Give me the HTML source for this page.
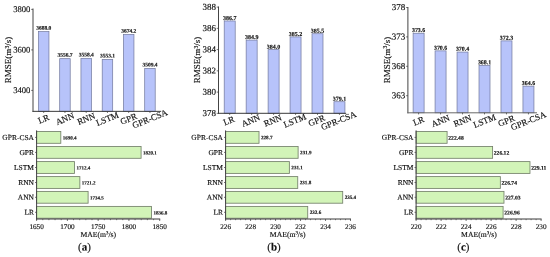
<!DOCTYPE html>
<html><head><meta charset="utf-8"><title>Figure</title>
<style>
html,body{margin:0;padding:0;background:#fff;}
svg{display:block;font-family:"Liberation Serif", "DejaVu Serif", serif;fill:#111;}
text{stroke:#111;stroke-width:0.15px;}
</style></head><body>
<svg width="550" height="257" viewBox="0 0 550 257">
<rect x="0" y="0" width="550" height="257" fill="#ffffff" stroke="none"/>
<rect x="38.45" y="31.64" width="10.50" height="79.71" fill="#b7c3fa" stroke="#70779c" stroke-width="0.7"/>
<text transform="translate(43.70,29.84) matrix(1,0.001,0,1,0,0)" font-size="5.50" text-anchor="middle" font-weight="bold">3688.0</text>
<rect x="59.70" y="58.67" width="10.50" height="52.68" fill="#b7c3fa" stroke="#70779c" stroke-width="0.7"/>
<text transform="translate(64.95,56.87) matrix(1,0.001,0,1,0,0)" font-size="5.50" text-anchor="middle" font-weight="bold">3556.7</text>
<rect x="80.95" y="58.32" width="10.50" height="53.03" fill="#b7c3fa" stroke="#70779c" stroke-width="0.7"/>
<text transform="translate(86.20,56.52) matrix(1,0.001,0,1,0,0)" font-size="5.50" text-anchor="middle" font-weight="bold">3558.4</text>
<rect x="102.20" y="59.41" width="10.50" height="51.94" fill="#b7c3fa" stroke="#70779c" stroke-width="0.7"/>
<text transform="translate(107.45,57.61) matrix(1,0.001,0,1,0,0)" font-size="5.50" text-anchor="middle" font-weight="bold">3553.1</text>
<rect x="123.45" y="34.48" width="10.50" height="76.87" fill="#b7c3fa" stroke="#70779c" stroke-width="0.7"/>
<text transform="translate(128.70,32.68) matrix(1,0.001,0,1,0,0)" font-size="5.50" text-anchor="middle" font-weight="bold">3674.2</text>
<rect x="144.70" y="68.41" width="10.50" height="42.94" fill="#b7c3fa" stroke="#70779c" stroke-width="0.7"/>
<text transform="translate(149.95,66.61) matrix(1,0.001,0,1,0,0)" font-size="5.50" text-anchor="middle" font-weight="bold">3509.4</text>
<line x1="33" y1="8.5" x2="33" y2="111.85" stroke="#444444" stroke-width="1"/>
<line x1="32.5" y1="111.35" x2="161.2" y2="111.35" stroke="#3a3a3a" stroke-width="1"/>
<line x1="31.2" y1="9.40" x2="33" y2="9.40" stroke="#3a3a3a" stroke-width="0.7"/>
<text transform="translate(30.40,11.90) matrix(1,0.001,0,1,0,0)" font-size="8.60" text-anchor="end">3800</text>
<line x1="31.2" y1="49.90" x2="33" y2="49.90" stroke="#3a3a3a" stroke-width="0.7"/>
<text transform="translate(30.40,52.40) matrix(1,0.001,0,1,0,0)" font-size="8.60" text-anchor="end">3600</text>
<line x1="31.2" y1="90.40" x2="33" y2="90.40" stroke="#3a3a3a" stroke-width="0.7"/>
<text transform="translate(30.40,92.90) matrix(1,0.001,0,1,0,0)" font-size="8.60" text-anchor="end">3400</text>
<line x1="43.70" y1="111.35" x2="43.70" y2="112.94999999999999" stroke="#3a3a3a" stroke-width="0.7"/>
<text transform="translate(43.70,118.95) rotate(-22)" x="0" y="2.8" font-size="8.8" text-anchor="middle">LR</text>
<line x1="64.95" y1="111.35" x2="64.95" y2="112.94999999999999" stroke="#3a3a3a" stroke-width="0.7"/>
<text transform="translate(64.95,118.95) rotate(-22)" x="0" y="2.8" font-size="8.8" text-anchor="middle">ANN</text>
<line x1="86.20" y1="111.35" x2="86.20" y2="112.94999999999999" stroke="#3a3a3a" stroke-width="0.7"/>
<text transform="translate(86.20,118.95) rotate(-22)" x="0" y="2.8" font-size="8.8" text-anchor="middle">RNN</text>
<line x1="107.45" y1="111.35" x2="107.45" y2="112.94999999999999" stroke="#3a3a3a" stroke-width="0.7"/>
<text transform="translate(107.45,118.95) rotate(-22)" x="0" y="2.8" font-size="8.8" text-anchor="middle">LSTM</text>
<line x1="128.70" y1="111.35" x2="128.70" y2="112.94999999999999" stroke="#3a3a3a" stroke-width="0.7"/>
<text transform="translate(128.70,118.95) rotate(-22)" x="0" y="2.8" font-size="8.8" text-anchor="middle">GPR</text>
<line x1="149.95" y1="111.35" x2="149.95" y2="112.94999999999999" stroke="#3a3a3a" stroke-width="0.7"/>
<text transform="translate(149.95,118.95) rotate(-22)" x="0" y="2.8" font-size="8.8" text-anchor="middle">GPR-CSA</text>
<text transform="translate(11.00,60.00) rotate(-90)" font-size="9.05" text-anchor="middle">RMSE(m<tspan font-size="5.61" dy="-2.5">3</tspan><tspan dy="2.5">/s)</tspan></text>
<rect x="224.20" y="20.96" width="11.00" height="92.34" fill="#b7c3fa" stroke="#70779c" stroke-width="0.7"/>
<text transform="translate(229.70,19.96) matrix(1,0.001,0,1,0,0)" font-size="6.00" text-anchor="middle" font-weight="bold">386.7</text>
<rect x="246.15" y="40.09" width="11.00" height="73.21" fill="#b7c3fa" stroke="#70779c" stroke-width="0.7"/>
<text transform="translate(251.65,39.09) matrix(1,0.001,0,1,0,0)" font-size="6.00" text-anchor="middle" font-weight="bold">384.9</text>
<rect x="268.10" y="49.65" width="11.00" height="63.65" fill="#b7c3fa" stroke="#70779c" stroke-width="0.7"/>
<text transform="translate(273.60,48.65) matrix(1,0.001,0,1,0,0)" font-size="6.00" text-anchor="middle" font-weight="bold">384.0</text>
<rect x="290.05" y="36.90" width="11.00" height="76.40" fill="#b7c3fa" stroke="#70779c" stroke-width="0.7"/>
<text transform="translate(295.55,35.90) matrix(1,0.001,0,1,0,0)" font-size="6.00" text-anchor="middle" font-weight="bold">385.2</text>
<rect x="312.00" y="33.71" width="11.00" height="79.59" fill="#b7c3fa" stroke="#70779c" stroke-width="0.7"/>
<text transform="translate(317.50,32.71) matrix(1,0.001,0,1,0,0)" font-size="6.00" text-anchor="middle" font-weight="bold">385.5</text>
<rect x="333.95" y="101.71" width="11.00" height="11.59" fill="#b7c3fa" stroke="#70779c" stroke-width="0.7"/>
<text transform="translate(339.45,100.71) matrix(1,0.001,0,1,0,0)" font-size="6.00" text-anchor="middle" font-weight="bold">379.1</text>
<line x1="218.5" y1="6.5" x2="218.5" y2="113.8" stroke="#444444" stroke-width="1"/>
<line x1="218.0" y1="113.3" x2="346.2" y2="113.3" stroke="#3a3a3a" stroke-width="1"/>
<line x1="216.7" y1="7.10" x2="218.5" y2="7.10" stroke="#3a3a3a" stroke-width="0.7"/>
<text transform="translate(215.90,9.72) matrix(1,0.001,0,1,0,0)" font-size="9.00" text-anchor="end">388</text>
<line x1="216.7" y1="28.35" x2="218.5" y2="28.35" stroke="#3a3a3a" stroke-width="0.7"/>
<text transform="translate(215.90,30.97) matrix(1,0.001,0,1,0,0)" font-size="9.00" text-anchor="end">386</text>
<line x1="216.7" y1="49.60" x2="218.5" y2="49.60" stroke="#3a3a3a" stroke-width="0.7"/>
<text transform="translate(215.90,52.22) matrix(1,0.001,0,1,0,0)" font-size="9.00" text-anchor="end">384</text>
<line x1="216.7" y1="70.85" x2="218.5" y2="70.85" stroke="#3a3a3a" stroke-width="0.7"/>
<text transform="translate(215.90,73.47) matrix(1,0.001,0,1,0,0)" font-size="9.00" text-anchor="end">382</text>
<line x1="216.7" y1="92.10" x2="218.5" y2="92.10" stroke="#3a3a3a" stroke-width="0.7"/>
<text transform="translate(215.90,94.72) matrix(1,0.001,0,1,0,0)" font-size="9.00" text-anchor="end">380</text>
<line x1="216.7" y1="113.35" x2="218.5" y2="113.35" stroke="#3a3a3a" stroke-width="0.7"/>
<text transform="translate(215.90,115.97) matrix(1,0.001,0,1,0,0)" font-size="9.00" text-anchor="end">378</text>
<line x1="229.70" y1="113.3" x2="229.70" y2="114.89999999999999" stroke="#3a3a3a" stroke-width="0.7"/>
<text transform="translate(228.90,120.70) rotate(-22)" x="0" y="2.8" font-size="8.8" text-anchor="middle">LR</text>
<line x1="251.65" y1="113.3" x2="251.65" y2="114.89999999999999" stroke="#3a3a3a" stroke-width="0.7"/>
<text transform="translate(250.85,120.70) rotate(-22)" x="0" y="2.8" font-size="8.8" text-anchor="middle">ANN</text>
<line x1="273.60" y1="113.3" x2="273.60" y2="114.89999999999999" stroke="#3a3a3a" stroke-width="0.7"/>
<text transform="translate(272.80,120.70) rotate(-22)" x="0" y="2.8" font-size="8.8" text-anchor="middle">RNN</text>
<line x1="295.55" y1="113.3" x2="295.55" y2="114.89999999999999" stroke="#3a3a3a" stroke-width="0.7"/>
<text transform="translate(294.75,120.70) rotate(-22)" x="0" y="2.8" font-size="8.8" text-anchor="middle">LSTM</text>
<line x1="317.50" y1="113.3" x2="317.50" y2="114.89999999999999" stroke="#3a3a3a" stroke-width="0.7"/>
<text transform="translate(316.70,120.70) rotate(-22)" x="0" y="2.8" font-size="8.8" text-anchor="middle">GPR</text>
<line x1="339.45" y1="113.3" x2="339.45" y2="114.89999999999999" stroke="#3a3a3a" stroke-width="0.7"/>
<text transform="translate(338.65,120.70) rotate(-22)" x="0" y="2.8" font-size="8.8" text-anchor="middle">GPR-CSA</text>
<text transform="translate(200.20,60.00) rotate(-90)" font-size="9.05" text-anchor="middle">RMSE(m<tspan font-size="5.61" dy="-2.5">3</tspan><tspan dy="2.5">/s)</tspan></text>
<rect x="413.10" y="33.22" width="11.00" height="79.58" fill="#b7c3fa" stroke="#70779c" stroke-width="0.7"/>
<text transform="translate(418.60,32.02) matrix(1,0.001,0,1,0,0)" font-size="5.90" text-anchor="middle" font-weight="bold">373.6</text>
<rect x="435.07" y="50.86" width="11.00" height="61.94" fill="#b7c3fa" stroke="#70779c" stroke-width="0.7"/>
<text transform="translate(440.57,49.66) matrix(1,0.001,0,1,0,0)" font-size="5.90" text-anchor="middle" font-weight="bold">370.6</text>
<rect x="457.04" y="52.04" width="11.00" height="60.76" fill="#b7c3fa" stroke="#70779c" stroke-width="0.7"/>
<text transform="translate(462.54,50.84) matrix(1,0.001,0,1,0,0)" font-size="5.90" text-anchor="middle" font-weight="bold">370.4</text>
<rect x="479.01" y="65.56" width="11.00" height="47.24" fill="#b7c3fa" stroke="#70779c" stroke-width="0.7"/>
<text transform="translate(484.51,64.36) matrix(1,0.001,0,1,0,0)" font-size="5.90" text-anchor="middle" font-weight="bold">368.1</text>
<rect x="500.98" y="40.87" width="11.00" height="71.93" fill="#b7c3fa" stroke="#70779c" stroke-width="0.7"/>
<text transform="translate(506.48,39.67) matrix(1,0.001,0,1,0,0)" font-size="5.90" text-anchor="middle" font-weight="bold">372.3</text>
<rect x="522.95" y="86.14" width="11.00" height="26.66" fill="#b7c3fa" stroke="#70779c" stroke-width="0.7"/>
<text transform="translate(528.45,84.94) matrix(1,0.001,0,1,0,0)" font-size="5.90" text-anchor="middle" font-weight="bold">364.6</text>
<line x1="407.9" y1="7.0" x2="407.9" y2="113.3" stroke="#444444" stroke-width="1"/>
<line x1="407.4" y1="112.8" x2="537.0" y2="112.8" stroke="#6a6a6a" stroke-width="1"/>
<line x1="406.09999999999997" y1="7.50" x2="407.9" y2="7.50" stroke="#3a3a3a" stroke-width="0.7"/>
<text transform="translate(405.30,10.12) matrix(1,0.001,0,1,0,0)" font-size="9.00" text-anchor="end">378</text>
<line x1="406.09999999999997" y1="36.90" x2="407.9" y2="36.90" stroke="#3a3a3a" stroke-width="0.7"/>
<text transform="translate(405.30,39.52) matrix(1,0.001,0,1,0,0)" font-size="9.00" text-anchor="end">373</text>
<line x1="406.09999999999997" y1="66.30" x2="407.9" y2="66.30" stroke="#3a3a3a" stroke-width="0.7"/>
<text transform="translate(405.30,68.92) matrix(1,0.001,0,1,0,0)" font-size="9.00" text-anchor="end">368</text>
<line x1="406.09999999999997" y1="95.70" x2="407.9" y2="95.70" stroke="#3a3a3a" stroke-width="0.7"/>
<text transform="translate(405.30,98.32) matrix(1,0.001,0,1,0,0)" font-size="9.00" text-anchor="end">363</text>
<line x1="418.60" y1="112.8" x2="418.60" y2="114.39999999999999" stroke="#3a3a3a" stroke-width="0.7"/>
<text transform="translate(418.60,121.00) rotate(-22)" x="0" y="2.8" font-size="8.8" text-anchor="middle">LR</text>
<line x1="440.57" y1="112.8" x2="440.57" y2="114.39999999999999" stroke="#3a3a3a" stroke-width="0.7"/>
<text transform="translate(440.57,121.00) rotate(-22)" x="0" y="2.8" font-size="8.8" text-anchor="middle">ANN</text>
<line x1="462.54" y1="112.8" x2="462.54" y2="114.39999999999999" stroke="#3a3a3a" stroke-width="0.7"/>
<text transform="translate(462.54,121.00) rotate(-22)" x="0" y="2.8" font-size="8.8" text-anchor="middle">RNN</text>
<line x1="484.51" y1="112.8" x2="484.51" y2="114.39999999999999" stroke="#3a3a3a" stroke-width="0.7"/>
<text transform="translate(484.51,121.00) rotate(-22)" x="0" y="2.8" font-size="8.8" text-anchor="middle">LSTM</text>
<line x1="506.48" y1="112.8" x2="506.48" y2="114.39999999999999" stroke="#3a3a3a" stroke-width="0.7"/>
<text transform="translate(506.48,121.00) rotate(-22)" x="0" y="2.8" font-size="8.8" text-anchor="middle">GPR</text>
<line x1="528.45" y1="112.8" x2="528.45" y2="114.39999999999999" stroke="#3a3a3a" stroke-width="0.7"/>
<text transform="translate(528.45,121.00) rotate(-22)" x="0" y="2.8" font-size="8.8" text-anchor="middle">GPR-CSA</text>
<text transform="translate(389.60,60.00) rotate(-90)" font-size="9.05" text-anchor="middle">RMSE(m<tspan font-size="5.61" dy="-2.5">3</tspan><tspan dy="2.5">/s)</tspan></text>
<rect x="36.6" y="131.50" width="24.21" height="11.8" fill="#d2f4b8" stroke="#74806a" stroke-width="0.85"/>
<text transform="translate(62.81,139.50) matrix(1,0.001,0,1,0,0)" font-size="5.00" font-weight="bold">1690.4</text>
<line x1="35.0" y1="137.40" x2="36.6" y2="137.40" stroke="#3a3a3a" stroke-width="0.7"/>
<text transform="translate(34.00,139.90) matrix(1,0.001,0,1,0,0)" font-size="7.50" text-anchor="end">GPR-CSA</text>
<rect x="36.6" y="146.50" width="104.49" height="11.8" fill="#d2f4b8" stroke="#74806a" stroke-width="0.85"/>
<text transform="translate(143.09,154.50) matrix(1,0.001,0,1,0,0)" font-size="5.00" font-weight="bold">1820.1</text>
<line x1="35.0" y1="152.40" x2="36.6" y2="152.40" stroke="#3a3a3a" stroke-width="0.7"/>
<text transform="translate(34.00,154.90) matrix(1,0.001,0,1,0,0)" font-size="7.50" text-anchor="end">GPR</text>
<rect x="36.6" y="161.60" width="37.83" height="11.8" fill="#d2f4b8" stroke="#74806a" stroke-width="0.85"/>
<text transform="translate(76.43,169.60) matrix(1,0.001,0,1,0,0)" font-size="5.00" font-weight="bold">1712.4</text>
<line x1="35.0" y1="167.50" x2="36.6" y2="167.50" stroke="#3a3a3a" stroke-width="0.7"/>
<text transform="translate(34.00,170.00) matrix(1,0.001,0,1,0,0)" font-size="7.50" text-anchor="end">LSTM</text>
<rect x="36.6" y="176.60" width="43.27" height="11.8" fill="#d2f4b8" stroke="#74806a" stroke-width="0.85"/>
<text transform="translate(81.87,184.60) matrix(1,0.001,0,1,0,0)" font-size="5.00" font-weight="bold">1721.2</text>
<line x1="35.0" y1="182.50" x2="36.6" y2="182.50" stroke="#3a3a3a" stroke-width="0.7"/>
<text transform="translate(34.00,185.00) matrix(1,0.001,0,1,0,0)" font-size="7.50" text-anchor="end">RNN</text>
<rect x="36.6" y="191.40" width="51.51" height="11.8" fill="#d2f4b8" stroke="#74806a" stroke-width="0.85"/>
<text transform="translate(90.11,199.40) matrix(1,0.001,0,1,0,0)" font-size="5.00" font-weight="bold">1734.5</text>
<line x1="35.0" y1="197.30" x2="36.6" y2="197.30" stroke="#3a3a3a" stroke-width="0.7"/>
<text transform="translate(34.00,199.80) matrix(1,0.001,0,1,0,0)" font-size="7.50" text-anchor="end">ANN</text>
<rect x="36.6" y="206.40" width="114.83" height="11.8" fill="#d2f4b8" stroke="#74806a" stroke-width="0.85"/>
<text transform="translate(153.43,214.40) matrix(1,0.001,0,1,0,0)" font-size="5.00" font-weight="bold">1836.8</text>
<line x1="35.0" y1="212.30" x2="36.6" y2="212.30" stroke="#3a3a3a" stroke-width="0.7"/>
<text transform="translate(34.00,214.80) matrix(1,0.001,0,1,0,0)" font-size="7.50" text-anchor="end">LR</text>
<line x1="36.6" y1="130.4" x2="36.6" y2="219.5" stroke="#444444" stroke-width="1"/>
<line x1="36.1" y1="219.0" x2="160.2" y2="219.0" stroke="#3a3a3a" stroke-width="1"/>
<line x1="36.60" y1="219.0" x2="36.60" y2="221.0" stroke="#3a3a3a" stroke-width="0.7"/>
<text transform="translate(36.60,229.10) matrix(1,0.001,0,1,0,0)" font-size="7.20" text-anchor="middle">1650</text>
<line x1="67.38" y1="219.0" x2="67.38" y2="221.0" stroke="#3a3a3a" stroke-width="0.7"/>
<text transform="translate(67.38,229.10) matrix(1,0.001,0,1,0,0)" font-size="7.20" text-anchor="middle">1700</text>
<line x1="98.15" y1="219.0" x2="98.15" y2="221.0" stroke="#3a3a3a" stroke-width="0.7"/>
<text transform="translate(98.15,229.10) matrix(1,0.001,0,1,0,0)" font-size="7.20" text-anchor="middle">1750</text>
<line x1="128.93" y1="219.0" x2="128.93" y2="221.0" stroke="#3a3a3a" stroke-width="0.7"/>
<text transform="translate(128.93,229.10) matrix(1,0.001,0,1,0,0)" font-size="7.20" text-anchor="middle">1800</text>
<line x1="159.70" y1="219.0" x2="159.70" y2="221.0" stroke="#3a3a3a" stroke-width="0.7"/>
<text transform="translate(159.70,229.10) matrix(1,0.001,0,1,0,0)" font-size="7.20" text-anchor="middle">1850</text>
<line x1="42.76" y1="219.0" x2="42.76" y2="220.2" stroke="#3a3a3a" stroke-width="0.6"/>
<line x1="48.91" y1="219.0" x2="48.91" y2="220.2" stroke="#3a3a3a" stroke-width="0.6"/>
<line x1="55.06" y1="219.0" x2="55.06" y2="220.2" stroke="#3a3a3a" stroke-width="0.6"/>
<line x1="61.22" y1="219.0" x2="61.22" y2="220.2" stroke="#3a3a3a" stroke-width="0.6"/>
<line x1="73.53" y1="219.0" x2="73.53" y2="220.2" stroke="#3a3a3a" stroke-width="0.6"/>
<line x1="79.69" y1="219.0" x2="79.69" y2="220.2" stroke="#3a3a3a" stroke-width="0.6"/>
<line x1="85.84" y1="219.0" x2="85.84" y2="220.2" stroke="#3a3a3a" stroke-width="0.6"/>
<line x1="92.00" y1="219.0" x2="92.00" y2="220.2" stroke="#3a3a3a" stroke-width="0.6"/>
<line x1="104.31" y1="219.0" x2="104.31" y2="220.2" stroke="#3a3a3a" stroke-width="0.6"/>
<line x1="110.46" y1="219.0" x2="110.46" y2="220.2" stroke="#3a3a3a" stroke-width="0.6"/>
<line x1="116.62" y1="219.0" x2="116.62" y2="220.2" stroke="#3a3a3a" stroke-width="0.6"/>
<line x1="122.77" y1="219.0" x2="122.77" y2="220.2" stroke="#3a3a3a" stroke-width="0.6"/>
<line x1="135.08" y1="219.0" x2="135.08" y2="220.2" stroke="#3a3a3a" stroke-width="0.6"/>
<line x1="141.24" y1="219.0" x2="141.24" y2="220.2" stroke="#3a3a3a" stroke-width="0.6"/>
<line x1="147.39" y1="219.0" x2="147.39" y2="220.2" stroke="#3a3a3a" stroke-width="0.6"/>
<line x1="153.55" y1="219.0" x2="153.55" y2="220.2" stroke="#3a3a3a" stroke-width="0.6"/>
<text transform="translate(98.30,236.90) matrix(1,0.001,0,1,0,0)" font-size="7.70" text-anchor="middle">MAE(m<tspan font-size="4.77" dy="-2.6">3</tspan><tspan dy="2.6">/s)</tspan></text>
<text transform="translate(84.50,250.40) matrix(1,0.001,0,1,0,0)" font-size="11.00" text-anchor="middle">(<tspan font-weight="bold">a</tspan>)</text>
<rect x="225.6" y="131.50" width="33.42" height="11.8" fill="#d2f4b8" stroke="#74806a" stroke-width="0.85"/>
<text transform="translate(261.02,139.20) matrix(1,0.001,0,1,0,0)" font-size="5.10" font-weight="bold">228.7</text>
<line x1="224.0" y1="137.40" x2="225.6" y2="137.40" stroke="#3a3a3a" stroke-width="0.7"/>
<text transform="translate(223.00,139.90) matrix(1,0.001,0,1,0,0)" font-size="7.50" text-anchor="end">GPR-CSA</text>
<rect x="225.6" y="146.50" width="72.52" height="11.8" fill="#d2f4b8" stroke="#74806a" stroke-width="0.85"/>
<text transform="translate(300.12,154.20) matrix(1,0.001,0,1,0,0)" font-size="5.10" font-weight="bold">231.9</text>
<line x1="224.0" y1="152.40" x2="225.6" y2="152.40" stroke="#3a3a3a" stroke-width="0.7"/>
<text transform="translate(223.00,154.90) matrix(1,0.001,0,1,0,0)" font-size="7.50" text-anchor="end">GPR</text>
<rect x="225.6" y="161.60" width="63.77" height="11.8" fill="#d2f4b8" stroke="#74806a" stroke-width="0.85"/>
<text transform="translate(291.37,169.30) matrix(1,0.001,0,1,0,0)" font-size="5.10" font-weight="bold">231.1</text>
<line x1="224.0" y1="167.50" x2="225.6" y2="167.50" stroke="#3a3a3a" stroke-width="0.7"/>
<text transform="translate(223.00,170.00) matrix(1,0.001,0,1,0,0)" font-size="7.50" text-anchor="end">LSTM</text>
<rect x="225.6" y="176.60" width="72.14" height="11.8" fill="#d2f4b8" stroke="#74806a" stroke-width="0.85"/>
<text transform="translate(299.74,184.30) matrix(1,0.001,0,1,0,0)" font-size="5.10" font-weight="bold">231.8</text>
<line x1="224.0" y1="182.50" x2="225.6" y2="182.50" stroke="#3a3a3a" stroke-width="0.7"/>
<text transform="translate(223.00,185.00) matrix(1,0.001,0,1,0,0)" font-size="7.50" text-anchor="end">RNN</text>
<rect x="225.6" y="191.40" width="117.11" height="11.8" fill="#d2f4b8" stroke="#74806a" stroke-width="0.85"/>
<text transform="translate(344.71,199.10) matrix(1,0.001,0,1,0,0)" font-size="5.10" font-weight="bold">235.4</text>
<line x1="224.0" y1="197.30" x2="225.6" y2="197.30" stroke="#3a3a3a" stroke-width="0.7"/>
<text transform="translate(223.00,199.80) matrix(1,0.001,0,1,0,0)" font-size="7.50" text-anchor="end">ANN</text>
<rect x="225.6" y="206.40" width="82.13" height="11.8" fill="#d2f4b8" stroke="#74806a" stroke-width="0.85"/>
<text transform="translate(309.73,214.10) matrix(1,0.001,0,1,0,0)" font-size="5.10" font-weight="bold">232.6</text>
<line x1="224.0" y1="212.30" x2="225.6" y2="212.30" stroke="#3a3a3a" stroke-width="0.7"/>
<text transform="translate(223.00,214.80) matrix(1,0.001,0,1,0,0)" font-size="7.50" text-anchor="end">LR</text>
<line x1="225.6" y1="130.4" x2="225.6" y2="219.5" stroke="#444444" stroke-width="1"/>
<line x1="225.1" y1="219.0" x2="351.0" y2="219.0" stroke="#3a3a3a" stroke-width="1"/>
<line x1="225.60" y1="219.0" x2="225.60" y2="221.0" stroke="#3a3a3a" stroke-width="0.7"/>
<text transform="translate(225.60,229.10) matrix(1,0.001,0,1,0,0)" font-size="7.20" text-anchor="middle">226</text>
<line x1="250.58" y1="219.0" x2="250.58" y2="221.0" stroke="#3a3a3a" stroke-width="0.7"/>
<text transform="translate(250.58,229.10) matrix(1,0.001,0,1,0,0)" font-size="7.20" text-anchor="middle">228</text>
<line x1="275.56" y1="219.0" x2="275.56" y2="221.0" stroke="#3a3a3a" stroke-width="0.7"/>
<text transform="translate(275.56,229.10) matrix(1,0.001,0,1,0,0)" font-size="7.20" text-anchor="middle">230</text>
<line x1="300.54" y1="219.0" x2="300.54" y2="221.0" stroke="#3a3a3a" stroke-width="0.7"/>
<text transform="translate(300.54,229.10) matrix(1,0.001,0,1,0,0)" font-size="7.20" text-anchor="middle">232</text>
<line x1="325.52" y1="219.0" x2="325.52" y2="221.0" stroke="#3a3a3a" stroke-width="0.7"/>
<text transform="translate(325.52,229.10) matrix(1,0.001,0,1,0,0)" font-size="7.20" text-anchor="middle">234</text>
<line x1="350.50" y1="219.0" x2="350.50" y2="221.0" stroke="#3a3a3a" stroke-width="0.7"/>
<text transform="translate(350.50,229.10) matrix(1,0.001,0,1,0,0)" font-size="7.20" text-anchor="middle">236</text>
<line x1="230.60" y1="219.0" x2="230.60" y2="220.2" stroke="#3a3a3a" stroke-width="0.6"/>
<line x1="235.59" y1="219.0" x2="235.59" y2="220.2" stroke="#3a3a3a" stroke-width="0.6"/>
<line x1="240.59" y1="219.0" x2="240.59" y2="220.2" stroke="#3a3a3a" stroke-width="0.6"/>
<line x1="245.58" y1="219.0" x2="245.58" y2="220.2" stroke="#3a3a3a" stroke-width="0.6"/>
<line x1="255.58" y1="219.0" x2="255.58" y2="220.2" stroke="#3a3a3a" stroke-width="0.6"/>
<line x1="260.57" y1="219.0" x2="260.57" y2="220.2" stroke="#3a3a3a" stroke-width="0.6"/>
<line x1="265.57" y1="219.0" x2="265.57" y2="220.2" stroke="#3a3a3a" stroke-width="0.6"/>
<line x1="270.56" y1="219.0" x2="270.56" y2="220.2" stroke="#3a3a3a" stroke-width="0.6"/>
<line x1="280.56" y1="219.0" x2="280.56" y2="220.2" stroke="#3a3a3a" stroke-width="0.6"/>
<line x1="285.55" y1="219.0" x2="285.55" y2="220.2" stroke="#3a3a3a" stroke-width="0.6"/>
<line x1="290.55" y1="219.0" x2="290.55" y2="220.2" stroke="#3a3a3a" stroke-width="0.6"/>
<line x1="295.54" y1="219.0" x2="295.54" y2="220.2" stroke="#3a3a3a" stroke-width="0.6"/>
<line x1="305.54" y1="219.0" x2="305.54" y2="220.2" stroke="#3a3a3a" stroke-width="0.6"/>
<line x1="310.53" y1="219.0" x2="310.53" y2="220.2" stroke="#3a3a3a" stroke-width="0.6"/>
<line x1="315.53" y1="219.0" x2="315.53" y2="220.2" stroke="#3a3a3a" stroke-width="0.6"/>
<line x1="320.52" y1="219.0" x2="320.52" y2="220.2" stroke="#3a3a3a" stroke-width="0.6"/>
<line x1="330.52" y1="219.0" x2="330.52" y2="220.2" stroke="#3a3a3a" stroke-width="0.6"/>
<line x1="335.51" y1="219.0" x2="335.51" y2="220.2" stroke="#3a3a3a" stroke-width="0.6"/>
<line x1="340.51" y1="219.0" x2="340.51" y2="220.2" stroke="#3a3a3a" stroke-width="0.6"/>
<line x1="345.50" y1="219.0" x2="345.50" y2="220.2" stroke="#3a3a3a" stroke-width="0.6"/>
<text transform="translate(287.70,236.90) matrix(1,0.001,0,1,0,0)" font-size="7.70" text-anchor="middle">MAE(m<tspan font-size="4.77" dy="-2.6">3</tspan><tspan dy="2.6">/s)</tspan></text>
<text transform="translate(274.00,250.40) matrix(1,0.001,0,1,0,0)" font-size="11.00" text-anchor="middle">(<tspan font-weight="bold">b</tspan>)</text>
<rect x="416.1" y="131.50" width="31.00" height="11.8" fill="#d2f4b8" stroke="#74806a" stroke-width="0.85"/>
<text transform="translate(448.30,139.70) matrix(1,0.001,0,1,0,0)" font-size="5.60" font-weight="bold">222.48</text>
<line x1="414.5" y1="137.40" x2="416.1" y2="137.40" stroke="#3a3a3a" stroke-width="0.7"/>
<text transform="translate(413.50,139.90) matrix(1,0.001,0,1,0,0)" font-size="7.50" text-anchor="end">GPR-CSA</text>
<rect x="416.1" y="146.50" width="76.50" height="11.8" fill="#d2f4b8" stroke="#74806a" stroke-width="0.85"/>
<text transform="translate(493.80,154.70) matrix(1,0.001,0,1,0,0)" font-size="5.60" font-weight="bold">226.12</text>
<line x1="414.5" y1="152.40" x2="416.1" y2="152.40" stroke="#3a3a3a" stroke-width="0.7"/>
<text transform="translate(413.50,154.90) matrix(1,0.001,0,1,0,0)" font-size="7.50" text-anchor="end">GPR</text>
<rect x="416.1" y="161.60" width="113.88" height="11.8" fill="#d2f4b8" stroke="#74806a" stroke-width="0.85"/>
<text transform="translate(531.18,169.80) matrix(1,0.001,0,1,0,0)" font-size="5.60" font-weight="bold">229.11</text>
<line x1="414.5" y1="167.50" x2="416.1" y2="167.50" stroke="#3a3a3a" stroke-width="0.7"/>
<text transform="translate(413.50,170.00) matrix(1,0.001,0,1,0,0)" font-size="7.50" text-anchor="end">LSTM</text>
<rect x="416.1" y="176.60" width="84.25" height="11.8" fill="#d2f4b8" stroke="#74806a" stroke-width="0.85"/>
<text transform="translate(501.55,184.80) matrix(1,0.001,0,1,0,0)" font-size="5.60" font-weight="bold">226.74</text>
<line x1="414.5" y1="182.50" x2="416.1" y2="182.50" stroke="#3a3a3a" stroke-width="0.7"/>
<text transform="translate(413.50,185.00) matrix(1,0.001,0,1,0,0)" font-size="7.50" text-anchor="end">RNN</text>
<rect x="416.1" y="191.40" width="87.88" height="11.8" fill="#d2f4b8" stroke="#74806a" stroke-width="0.85"/>
<text transform="translate(505.18,199.60) matrix(1,0.001,0,1,0,0)" font-size="5.60" font-weight="bold">227.03</text>
<line x1="414.5" y1="197.30" x2="416.1" y2="197.30" stroke="#3a3a3a" stroke-width="0.7"/>
<text transform="translate(413.50,199.80) matrix(1,0.001,0,1,0,0)" font-size="7.50" text-anchor="end">ANN</text>
<rect x="416.1" y="206.40" width="87.00" height="11.8" fill="#d2f4b8" stroke="#74806a" stroke-width="0.85"/>
<text transform="translate(504.30,214.60) matrix(1,0.001,0,1,0,0)" font-size="5.60" font-weight="bold">226.96</text>
<line x1="414.5" y1="212.30" x2="416.1" y2="212.30" stroke="#3a3a3a" stroke-width="0.7"/>
<text transform="translate(413.50,214.80) matrix(1,0.001,0,1,0,0)" font-size="7.50" text-anchor="end">LR</text>
<line x1="416.1" y1="130.4" x2="416.1" y2="219.5" stroke="#444444" stroke-width="1"/>
<line x1="415.6" y1="219.0" x2="541.6" y2="219.0" stroke="#3a3a3a" stroke-width="1"/>
<line x1="416.10" y1="219.0" x2="416.10" y2="221.0" stroke="#3a3a3a" stroke-width="0.7"/>
<text transform="translate(416.10,229.10) matrix(1,0.001,0,1,0,0)" font-size="7.20" text-anchor="middle">220</text>
<line x1="441.10" y1="219.0" x2="441.10" y2="221.0" stroke="#3a3a3a" stroke-width="0.7"/>
<text transform="translate(441.10,229.10) matrix(1,0.001,0,1,0,0)" font-size="7.20" text-anchor="middle">222</text>
<line x1="466.10" y1="219.0" x2="466.10" y2="221.0" stroke="#3a3a3a" stroke-width="0.7"/>
<text transform="translate(466.10,229.10) matrix(1,0.001,0,1,0,0)" font-size="7.20" text-anchor="middle">224</text>
<line x1="491.10" y1="219.0" x2="491.10" y2="221.0" stroke="#3a3a3a" stroke-width="0.7"/>
<text transform="translate(491.10,229.10) matrix(1,0.001,0,1,0,0)" font-size="7.20" text-anchor="middle">226</text>
<line x1="516.10" y1="219.0" x2="516.10" y2="221.0" stroke="#3a3a3a" stroke-width="0.7"/>
<text transform="translate(516.10,229.10) matrix(1,0.001,0,1,0,0)" font-size="7.20" text-anchor="middle">228</text>
<line x1="541.10" y1="219.0" x2="541.10" y2="221.0" stroke="#3a3a3a" stroke-width="0.7"/>
<text transform="translate(541.10,229.10) matrix(1,0.001,0,1,0,0)" font-size="7.20" text-anchor="middle">230</text>
<line x1="421.10" y1="219.0" x2="421.10" y2="220.2" stroke="#3a3a3a" stroke-width="0.6"/>
<line x1="426.10" y1="219.0" x2="426.10" y2="220.2" stroke="#3a3a3a" stroke-width="0.6"/>
<line x1="431.10" y1="219.0" x2="431.10" y2="220.2" stroke="#3a3a3a" stroke-width="0.6"/>
<line x1="436.10" y1="219.0" x2="436.10" y2="220.2" stroke="#3a3a3a" stroke-width="0.6"/>
<line x1="446.10" y1="219.0" x2="446.10" y2="220.2" stroke="#3a3a3a" stroke-width="0.6"/>
<line x1="451.10" y1="219.0" x2="451.10" y2="220.2" stroke="#3a3a3a" stroke-width="0.6"/>
<line x1="456.10" y1="219.0" x2="456.10" y2="220.2" stroke="#3a3a3a" stroke-width="0.6"/>
<line x1="461.10" y1="219.0" x2="461.10" y2="220.2" stroke="#3a3a3a" stroke-width="0.6"/>
<line x1="471.10" y1="219.0" x2="471.10" y2="220.2" stroke="#3a3a3a" stroke-width="0.6"/>
<line x1="476.10" y1="219.0" x2="476.10" y2="220.2" stroke="#3a3a3a" stroke-width="0.6"/>
<line x1="481.10" y1="219.0" x2="481.10" y2="220.2" stroke="#3a3a3a" stroke-width="0.6"/>
<line x1="486.10" y1="219.0" x2="486.10" y2="220.2" stroke="#3a3a3a" stroke-width="0.6"/>
<line x1="496.10" y1="219.0" x2="496.10" y2="220.2" stroke="#3a3a3a" stroke-width="0.6"/>
<line x1="501.10" y1="219.0" x2="501.10" y2="220.2" stroke="#3a3a3a" stroke-width="0.6"/>
<line x1="506.10" y1="219.0" x2="506.10" y2="220.2" stroke="#3a3a3a" stroke-width="0.6"/>
<line x1="511.10" y1="219.0" x2="511.10" y2="220.2" stroke="#3a3a3a" stroke-width="0.6"/>
<line x1="521.10" y1="219.0" x2="521.10" y2="220.2" stroke="#3a3a3a" stroke-width="0.6"/>
<line x1="526.10" y1="219.0" x2="526.10" y2="220.2" stroke="#3a3a3a" stroke-width="0.6"/>
<line x1="531.10" y1="219.0" x2="531.10" y2="220.2" stroke="#3a3a3a" stroke-width="0.6"/>
<line x1="536.10" y1="219.0" x2="536.10" y2="220.2" stroke="#3a3a3a" stroke-width="0.6"/>
<text transform="translate(478.90,236.90) matrix(1,0.001,0,1,0,0)" font-size="7.70" text-anchor="middle">MAE(m<tspan font-size="4.77" dy="-2.6">3</tspan><tspan dy="2.6">/s)</tspan></text>
<text transform="translate(463.40,250.40) matrix(1,0.001,0,1,0,0)" font-size="11.00" text-anchor="middle">(<tspan font-weight="bold">c</tspan>)</text>
</svg>
</body></html>
